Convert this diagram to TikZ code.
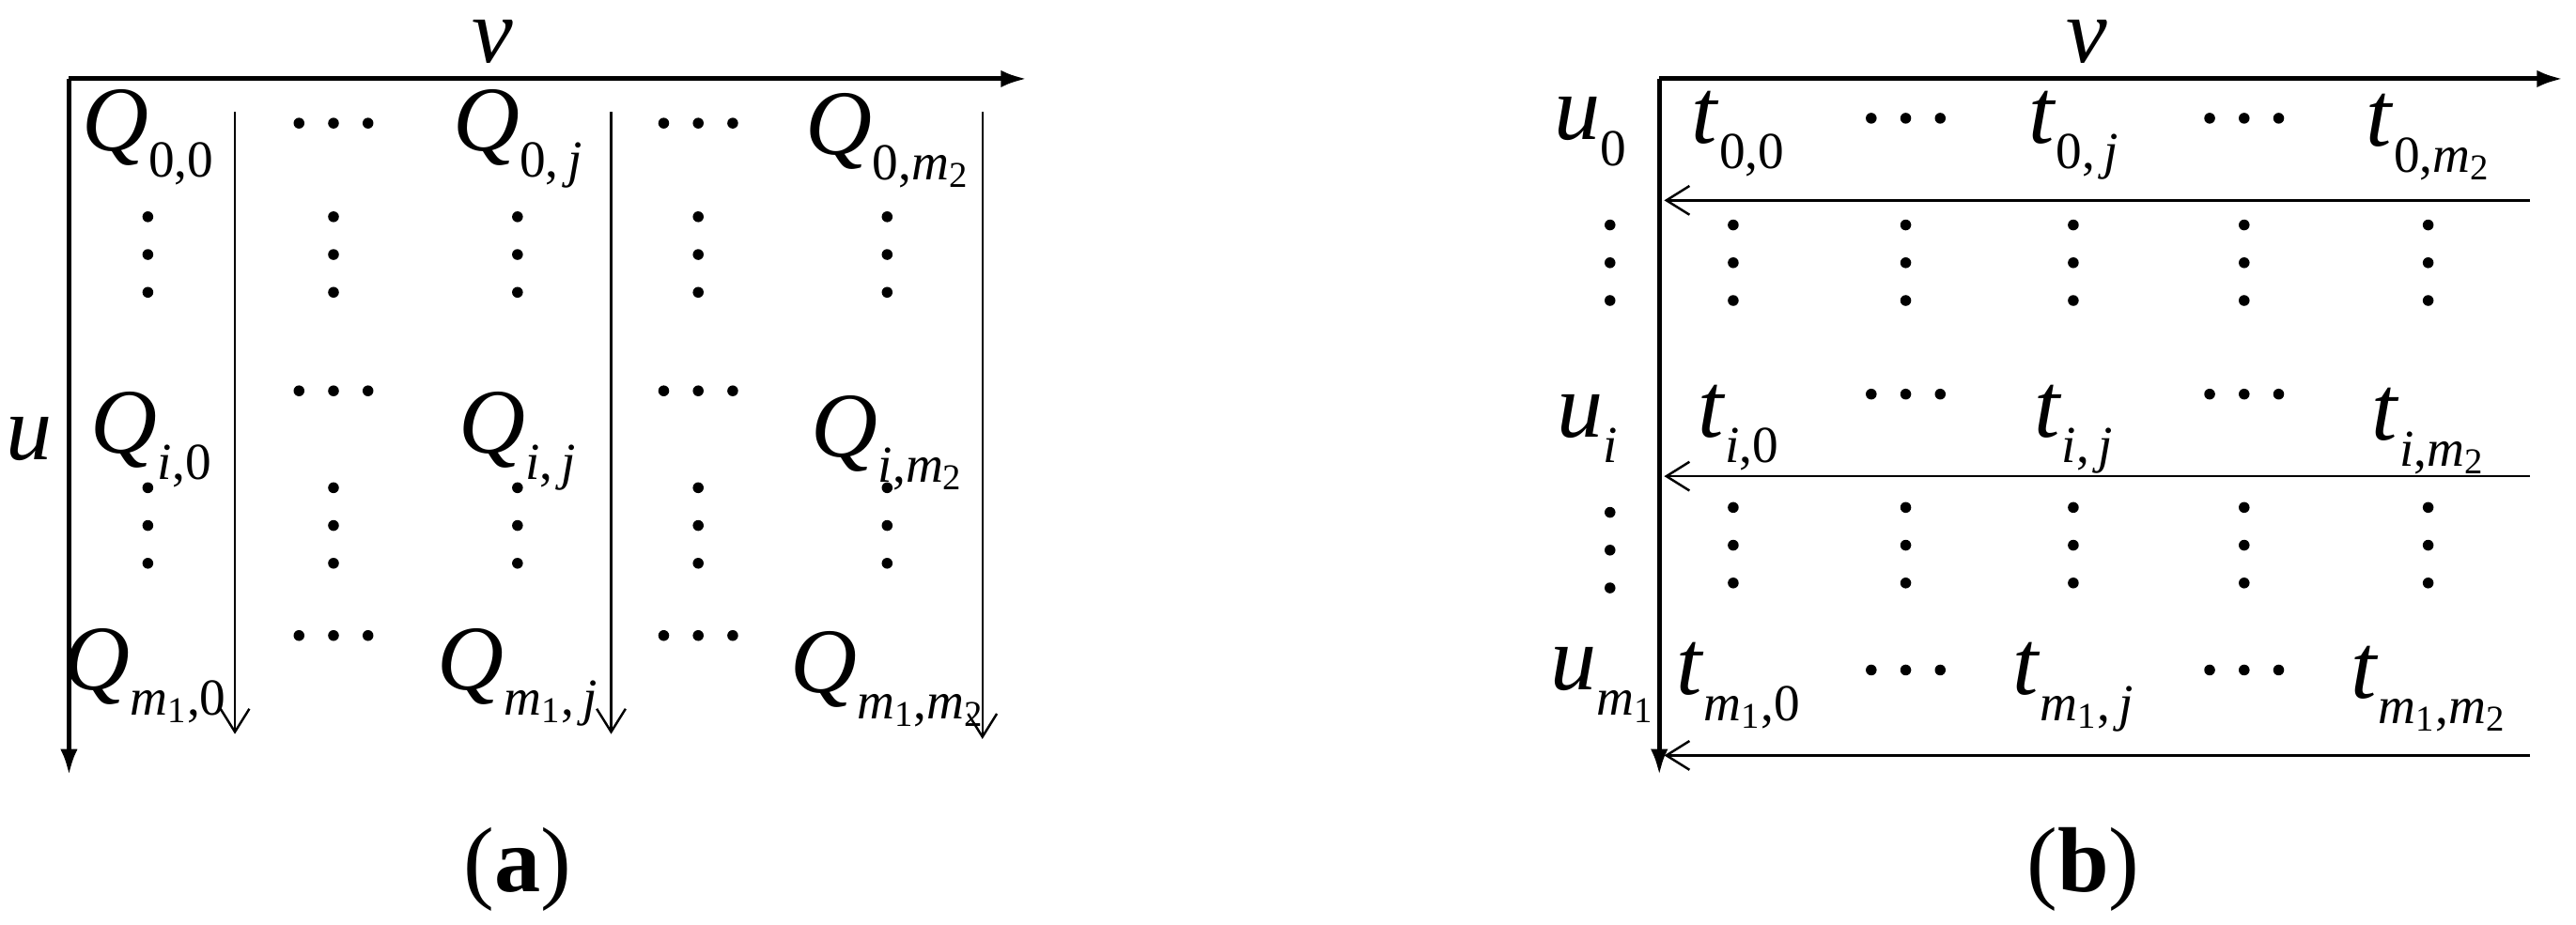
\documentclass[tikz,border=0pt]{standalone}
\usepackage{fontspec}
\setmainfont{Liberation Serif}
\usetikzlibrary{arrows.meta}
\newcommand{\mi}[1]{\textit{#1}}
\newcommand{\sbs}[1]{\raisebox{-0.28em}{\fontsize{18}{22}\selectfont #1}}
\begin{document}
\begin{tikzpicture}[x=0.02cm,y=-0.02cm,
  lab/.style={inner sep=0pt,anchor=base,font=\fontsize{32}{36}\selectfont},
  ax/.style={line width=1.6pt,-{Latex[length=9pt,width=6pt]}},
  thin/.style={line width=0.8pt,-{Straight Barb[length=8pt,width=10pt]}}]
\useasboundingbox (0,0) rectangle (1568,563);
\tikzset{pics/hd/.style={code={\foreach \d in {-21,0,21}\fill (\d,0) circle (3.3);}},
         pics/vd/.style={code={\foreach \d in {-23,0,23}\fill (0,\d) circle (3.3);}}}
% panel a
\coordinate (ao) at (42,48);
\coordinate (av) at (625,48);
\coordinate (au) at (42,472);
\draw[ax] (ao)--(av);
\draw[ax] (ao)--(au);
\node[lab] (vA) at (300,38) {\mi{v}};
\node[lab] (uA) at (18,280) {\mi{u}};
\foreach \x/\y in {143/447,372/447,598/450}{
  \coordinate (s\x) at (\x,68); \coordinate (e\x) at (\x,\y);
  \draw[thin] (s\x)--(e\x);}
\node[lab] (q00) at (90,92) {\mi{Q}\sbs{0,0}};
\node[lab] (q0j) at (315,92) {\mi{Q}\sbs{0,\,\mi{j}}};
\node[lab] (q0m) at (540,94) {\mi{Q}\sbs{0,\mi{m}\textsubscript{2}}};
\node[lab] (qi0) at (92,276) {\mi{Q}\sbs{\mi{i},0}};
\node[lab] (qij) at (315,276) {\mi{Q}\sbs{\mi{i},\,\mi{j}}};
\node[lab] (qim) at (540,278) {\mi{Q}\sbs{\mi{i},\mi{m}\textsubscript{2}}};
\node[lab] (qm0) at (88,420) {\mi{Q}\sbs{\mi{m}\textsubscript{1},0}};
\node[lab] (qmj) at (315,420) {\mi{Q}\sbs{\mi{m}\textsubscript{1},\,\mi{j}}};
\node[lab] (qmm) at (540,422) {\mi{Q}\sbs{\mi{m}\textsubscript{1},\mi{m}\textsubscript{2}}};
\foreach \x in {203,425}{\foreach \y in {75,238,387}{
  \pic at (\x,\y) {hd};}}
\foreach \x in {90,203,315,425,540}{\foreach \y in {155,320}{
  \pic at (\x,\y) {vd};}}
\node[lab] (capa) at (315,543) {(\textbf{a})};
% panel b
\coordinate (bo) at (1010,48);
\coordinate (bv) at (1560,48);
\coordinate (bu) at (1010,472);
\draw[ax] (bo)--(bv);
\draw[ax] (bo)--(bu);
\node[lab] (vB) at (1270,38) {\mi{v}};
\foreach \y in {122,290,460}{
  \coordinate (r\y) at (1540,\y); \coordinate (l\y) at (1013,\y);
  \draw[thin] (r\y)--(l\y);}
\node[lab] (u0) at (968,85) {\mi{u}\sbs{0}};
\node[lab] (ui) at (966,266) {\mi{u}\sbs{\mi{i}}};
\node[lab] (um) at (975,420) {\mi{u}\sbs{\mi{m}\textsubscript{1}}};
\pic at (980,160) {vd};
\pic at (980,335) {vd};
\node[lab] (t00) at (1058,87) {\mi{t}\sbs{0,0}};
\node[lab] (t0j) at (1262,87) {\mi{t}\sbs{0,\,\mi{j}}};
\node[lab] (t0m) at (1478,89) {\mi{t}\sbs{0,\mi{m}\textsubscript{2}}};
\node[lab] (ti0) at (1058,266) {\mi{t}\sbs{\mi{i},0}};
\node[lab] (tij) at (1262,266) {\mi{t}\sbs{\mi{i},\,\mi{j}}};
\node[lab] (tim) at (1478,268) {\mi{t}\sbs{\mi{i},\mi{m}\textsubscript{2}}};
\node[lab] (tm0) at (1058,423) {\mi{t}\sbs{\mi{m}\textsubscript{1},0}};
\node[lab] (tmj) at (1262,423) {\mi{t}\sbs{\mi{m}\textsubscript{1},\,\mi{j}}};
\node[lab] (tmm) at (1478,425) {\mi{t}\sbs{\mi{m}\textsubscript{1},\mi{m}\textsubscript{2}}};
\foreach \x in {1160,1366}{\foreach \y in {72,240,408}{
  \pic at (\x,\y) {hd};}}
\foreach \x in {1055,1160,1262,1366,1478}{\foreach \y in {160,332}{
  \pic at (\x,\y) {vd};}}
\node[lab] (capb) at (1268,543) {(\textbf{b})};
\end{tikzpicture}
\end{document}
